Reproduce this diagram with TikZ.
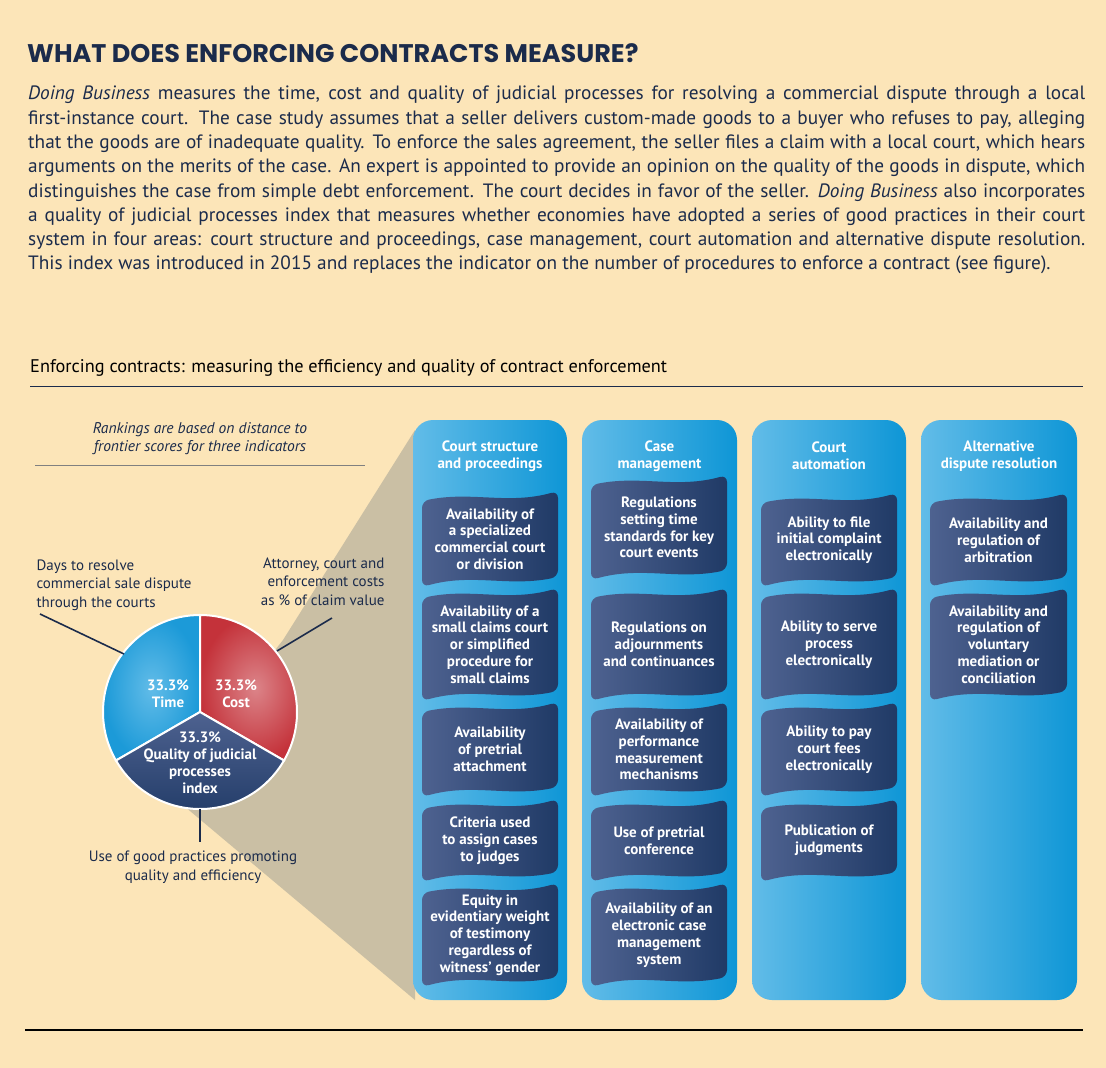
\documentclass[tikz,border=0pt]{standalone}
\usepackage{fontspec}
\setmainfont{PT Sans}
\newfontfamily\titlefont{Poppins}
\usetikzlibrary{shadings}
\definecolor{bg}{HTML}{FCE5B8}
\definecolor{navy}{HTML}{1B2B4B}
\definecolor{cardD}{HTML}{203A66}
\definecolor{cardL}{HTML}{4E6290}
\definecolor{colD}{HTML}{0E96D6}
\definecolor{colL}{HTML}{62BCE8}
\definecolor{redS}{HTML}{C4323A}
\definecolor{timeB}{HTML}{1C9AD8}
\definecolor{shadowC}{HTML}{CABFA4}
\tikzset{
 cardtxt/.style={text=white,font=\fontsize{15}{16.8}\selectfont\bfseries,align=center},
 coltxt/.style={text=white,font=\fontsize{15}{17}\selectfont\bfseries,align=center},
 lbl/.style={text=navy,font=\fontsize{15}{18.5}\selectfont},
 conn/.style={navy,line width=1.6pt}
}
\newcommand{\mycard}[6]{% x1 y1 x2 y2 name text
 \shade[left color=cardL,right color=cardD,rounded corners=7pt]
  (#1,#2+6) .. controls (#1+50,#2-4) and (#3-50,#2+10) .. (#3,#2-4)
  -- (#3,#4-6) .. controls (#3-50,#4+4) and (#1+50,#4-10) .. (#1,#4+4) -- cycle;
 \node[cardtxt] (#5) at ({(#1+#3)/2},{(#2+#4)/2}) {#6};}
\newcommand{\mycol}[4]{% x1 x2 name text
 \shade[left color=colL,right color=colD,rounded corners=20pt] (#1,420) rectangle (#2,1000);
 \node[coltxt] (#3) at ({(#1+#2)/2},456) {#4};}
\begin{document}
\begin{tikzpicture}[x=1pt,y=-1pt]
\fill[bg] (0,0) rectangle (1106,1068);
\useasboundingbox (0,0) rectangle (1106,1068);
\node[anchor=base west,inner sep=0,text=navy,font=\titlefont\fontsize{25.5}{28}\selectfont\bfseries] (title) at (27,62) {WHAT DOES ENFORCING CONTRACTS MEASURE?};
\node[anchor=north west,inner sep=0,text=navy] (body) at (28,86) {\parbox{1057pt}{\fontsize{19.3}{24.3}\selectfont
\emph{Doing Business} measures the time, cost and quality of judicial processes for resolving a commercial dispute through a local\linebreak
first-instance court. The case study assumes that a seller delivers custom-made goods to a buyer who refuses to pay, alleging\linebreak
that the goods are of inadequate quality. To enforce the sales agreement, the seller files a claim with a local court, which hears\linebreak
arguments on the merits of the case. An expert is appointed to provide an opinion on the quality of the goods in dispute, which\linebreak
distinguishes the case from simple debt enforcement. The court decides in favor of the seller. \emph{Doing Business} also incorporates\linebreak
a quality of judicial processes index that measures whether economies have adopted a series of good practices in their court\linebreak
system in four areas: court structure and proceedings, case management, court automation and alternative dispute resolution.\linebreak
This index was introduced in 2015 and replaces the indicator on the number of procedures to enforce a contract (see figure).}};
\node[anchor=base west,inner sep=0,text=black,font=\fontsize{18.3}{20}\selectfont] (sub) at (30,372) {Enforcing contracts: measuring the efficiency and quality of contract enforcement};
\draw[navy,line width=0.8pt] (30,386) -- (1083,386);
\draw[black,line width=2pt] (25,1030) -- (1083,1030);
% shadow
\fill[shadowC] (283,640) -- (415,430) -- (415,1000) -- (165,790) -- cycle;
% rankings
\node[lbl,font=\fontsize{15.5}{18}\selectfont\itshape,align=center] (rank) at (200,439) {Rankings are based on distance to\\frontier scores for three indicators};
\draw[gray,line width=0.6pt] (35,465) -- (365,465);
% pie
\begin{scope}[shift={(200,712)},y=1pt]
\shade[inner color=colL,outer color=timeB,draw=white,line width=2pt] (0,0) -- (90:97) arc (90:210:97) -- cycle;
\shade[inner color=redS!60!white,outer color=redS,draw=white,line width=2pt] (0,0) -- (-30:97) arc (-30:90:97) -- cycle;
\shade[top color=cardL,bottom color=cardD,draw=white,line width=2pt] (0,0) -- (210:97) arc (210:330:97) -- cycle;
\end{scope}
\node[coltxt] (ptime) at (168,694) {33.3\%\\Time};
\node[coltxt] (pcost) at (236,694) {33.3\%\\Cost};
\node[coltxt] (pqual) at (200,763) {33.3\%\\Quality of judicial\\processes\\index};
% labels
\node[lbl,anchor=north west,align=left] (ldays) at (33,556) {Days to resolve\\commercial sale dispute\\through the courts};
\node[lbl,anchor=north east,align=right] (lcost) at (388,554) {Attorney, court and\\enforcement costs\\as \% of claim value};
\node[lbl,align=center] (lgood) at (193,867) {Use of good practices promoting\\quality and efficiency};
\coordinate (d1) at (40,614); \coordinate (d2) at (124,654);
\coordinate (c1) at (332,618); \coordinate (c2) at (277,651);
\coordinate (g1) at (200,809); \coordinate (g2) at (200,842);
\draw[conn] (d1) -- (d2); \draw[conn] (c1) -- (c2); \draw[conn] (g1) -- (g2);
% columns
\mycol{413}{567}{h1}{Court structure\\and proceedings}
\mycol{582}{737}{h2}{Case\\management}
\mycol{752}{906}{h3}{Court\\automation}
\mycol{921}{1077}{h4}{Alternative\\dispute resolution}
\mycard{422}{495}{558}{583}{a1}{Availability of\\a specialized\\commercial court\\or division}
\mycard{422}{592}{558}{697}{a2}{Availability of a\\small claims court\\or simplified\\procedure for\\small claims}
\mycard{422}{706}{558}{793}{a3}{Availability\\of pretrial\\attachment}
\mycard{422}{803}{558}{878}{a4}{Criteria used\\to assign cases\\to judges}
\mycard{422}{887}{558}{983}{a5}{Equity in\\evidentiary weight\\of testimony\\regardless of\\witness' gender}
\mycard{591}{479}{727}{576}{b1}{Regulations\\setting time\\standards for key\\court events}
\mycard{591}{592}{727}{697}{b2}{Regulations on\\adjournments\\and continuances}
\mycard{591}{706}{727}{793}{b3}{Availability of\\performance\\measurement\\mechanisms}
\mycard{591}{803}{727}{878}{b4}{Use of pretrial\\conference}
\mycard{591}{887}{727}{983}{b5}{Availability of an\\electronic case\\management\\system}
\mycard{761}{497}{897}{583}{c1n}{Ability to file\\initial complaint\\electronically}
\mycard{761}{592}{897}{697}{c2n}{Ability to serve\\process\\electronically}
\mycard{761}{706}{897}{793}{c3n}{Ability to pay\\court fees\\electronically}
\mycard{761}{803}{897}{878}{c4n}{Publication of\\judgments}
\mycard{930}{497}{1067}{583}{e1}{Availability and\\regulation of\\arbitration}
\mycard{930}{592}{1067}{697}{e2}{Availability and\\regulation of\\voluntary\\mediation or\\conciliation}
\end{tikzpicture}
\end{document}
